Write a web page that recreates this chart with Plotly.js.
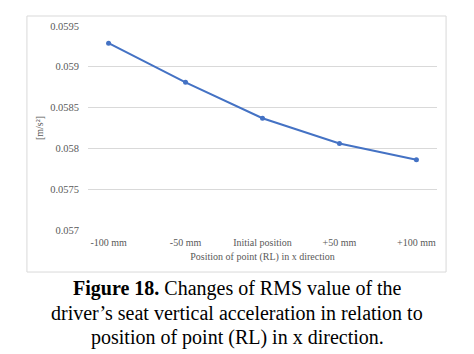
<!DOCTYPE html>
<html>
<head>
<meta charset="utf-8">
<script src="https://cdn.plot.ly/plotly-3.0.1.min.js"></script>
<style>html,body{margin:0;padding:0;background:#fff;}#chart{width:474px;height:354px;}</style>
</head>
<body>
<div id="chart"></div>
<script>
var categories = ["-100 mm", "-50 mm", "Initial position", "+50 mm", "+100 mm"];
var rmsValues = [0.05929, 0.05881, 0.05837, 0.05806, 0.05786];
var yTicks = [0.057, 0.0575, 0.058, 0.0585, 0.059, 0.0595];
var yTickLabels = ["0.057", "0.0575", "0.058", "0.0585", "0.059", "0.0595"];
var captionLines = [
  "<b>Figure 18.</b> Changes of RMS value of the",
  "driver\u2019s seat vertical acceleration in relation to",
  "position of point (RL) in x direction."
];

var serif = "Liberation Serif, Times New Roman, serif";
var trace = {
  x: categories, y: rmsValues, type: "scatter", mode: "lines+markers",
  line: {color: "#4472C4", width: 2},
  marker: {color: "#4472C4", size: 5},
  hoverinfo: "none"
};
var captionY = [-0.289, -0.407, -0.525];
var annotations = captionLines.map(function (t, i) {
  return {text: t, xref: "paper", yref: "paper", x: 0.427, y: captionY[i],
    xanchor: "center", yanchor: "middle", showarrow: false,
    font: {family: serif, size: 20, color: "#000"}};
});
var layout = {
  width: 474, height: 354,
  margin: {l: 88, r: 37, t: 26, b: 124},
  paper_bgcolor: "#fff", plot_bgcolor: "#fff",
  showlegend: false,
  xaxis: {
    type: "category", showgrid: false, zeroline: false, showline: false,
    ticks: "", ticklabelstandoff: 5, tickfont: {family: serif, size: 10, color: "#595959"},
    title: {text: "Position of point (RL) in x direction", font: {family: serif, size: 10, color: "#595959"}, standoff: 5}
  },
  yaxis: {
    range: [0.057, 0.0595], tickvals: yTicks, ticktext: yTickLabels,
    showgrid: true, gridcolor: "#d9d9d9", gridwidth: 1, zeroline: false, showline: false,
    ticks: "", ticklabelstandoff: 8, tickfont: {family: serif, size: 10.5, color: "#595959"},
    title: {text: "[m/s\u00b2]", font: {family: serif, size: 10, color: "#595959"}, standoff: 4}
  },
  shapes: [{type: "rect", xref: "paper", yref: "paper", x0: -0.175, x1: 1.026, y0: -0.206, y1: 1.049,
    line: {color: "#d9d9d9", width: 1}, fillcolor: "rgba(0,0,0,0)", layer: "below"}],
  annotations: annotations
};
Plotly.newPlot("chart", [trace], layout, {displayModeBar: false, staticPlot: true});
</script>
</body>
</html>
